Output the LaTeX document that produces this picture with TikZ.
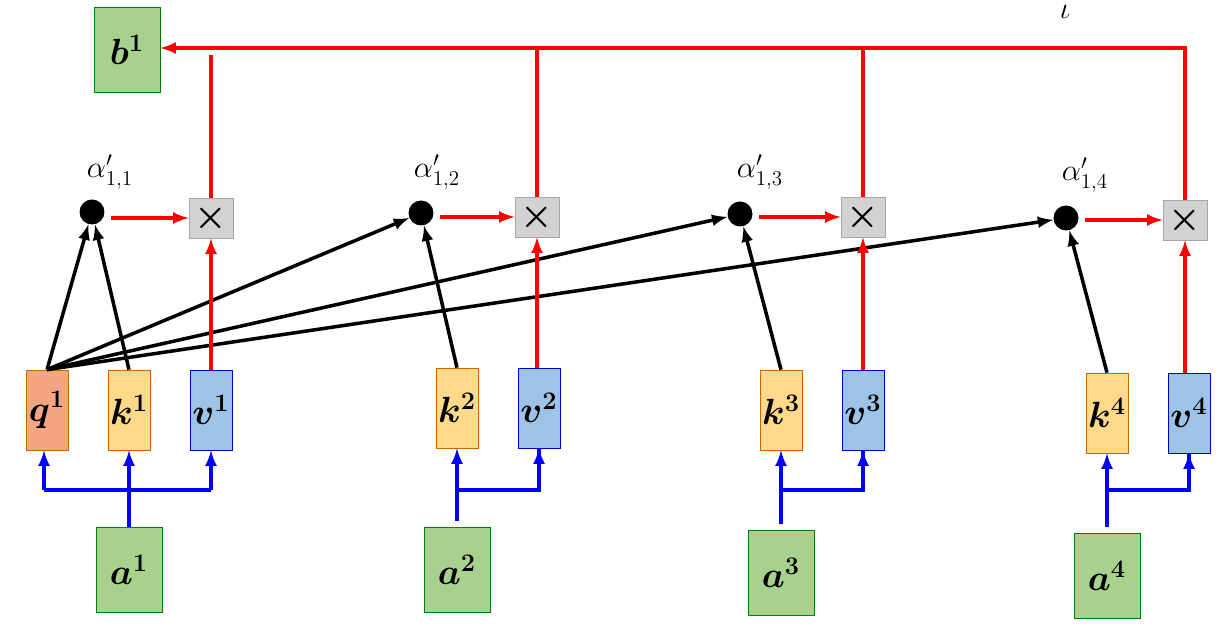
\documentclass[tikz,border=0pt]{standalone}
\usepackage{amsmath,bm}
\begin{document}
\begin{tikzpicture}[x=0.02cm,y=-0.02cm,
 box/.style={draw=#1!80!black,minimum width=0.84cm,minimum height=1.6cm,inner sep=0pt},
 gbox/.style={draw=green!50!black,minimum width=1.32cm,minimum height=1.7cm,inner sep=0pt,font=\huge},
 lab/.style={font=\huge},
 alab/.style={font=\LARGE},
 xb/.style={draw=gray!70,fill=gray!35,minimum width=0.88cm,minimum height=0.8cm,inner sep=0pt,font=\huge},
 dot/.style={circle,fill=black,minimum size=0.5cm,inner sep=0pt},
 bl/.style={blue,line width=2pt,-latex},
 rd/.style={red,line width=2pt,-latex},
 bk/.style={black,line width=2pt,-latex}]
\useasboundingbox (0,0) rectangle (1232,634);
\definecolor{qc}{HTML}{F4A582}\definecolor{kc}{HTML}{FFD98A}\definecolor{vc}{HTML}{9DC3E6}\definecolor{gc}{HTML}{A9D18E}
\node[gbox,fill=gc] (b1) at (127,50) {$\bm{b^1}$};
\node[gbox,fill=gc] (a1) at (129,570) {$\bm{a^1}$};
\node[gbox,fill=gc] (a2) at (457,570) {$\bm{a^2}$};
\node[gbox,fill=gc] (a3) at (781,573) {$\bm{a^3}$};
\node[gbox,fill=gc] (a4) at (1107,576) {$\bm{a^4}$};
\node[box=orange,fill=qc,lab] (q1) at (47,410) {$\bm{q^1}$};
\node[box=orange,fill=kc,lab] (k1) at (129,410) {$\bm{k^1}$};
\node[box=blue,fill=vc,lab] (v1) at (211,410) {$\bm{v^1}$};
\node[box=orange,fill=kc,lab] (k2) at (457,408) {$\bm{k^2}$};
\node[box=blue,fill=vc,lab] (v2) at (539,408) {$\bm{v^2}$};
\node[box=orange,fill=kc,lab] (k3) at (781,410) {$\bm{k^3}$};
\node[box=blue,fill=vc,lab] (v3) at (863,410) {$\bm{v^3}$};
\node[box=orange,fill=kc,lab] (k4) at (1107,413) {$\bm{k^4}$};
\node[box=blue,fill=vc,lab] (v4) at (1189,413) {$\bm{v^4}$};
\node[dot] (d1) at (92,212) {}; \node[alab] (l1) at (110,172) {$\alpha'_{1,1}$};
\node[dot] (d2) at (421,213) {}; \node[alab] (l2) at (437,172) {$\alpha'_{1,2}$};
\node[dot] (d3) at (740,214) {}; \node[alab] (l3) at (760,172) {$\alpha'_{1,3}$};
\node[dot] (d4) at (1066,218) {}; \node[alab] (l4) at (1085,175) {$\alpha'_{1,4}$};
\node[xb] (x1) at (211,218) {$\bm\times$};
\node[xb] (x2) at (537,217) {$\bm\times$};
\node[xb] (x3) at (863,217) {$\bm\times$};
\node[xb] (x4) at (1185,220) {$\bm\times$};
\node[alab] (iota) at (1065,12) {$\iota$};
% blue
\coordinate (h1l) at (44,490); \coordinate (h1r) at (211,490);
\draw[blue,line width=2pt] (h1l) -- (h1r);
\draw[bl] (a1.north) -- (k1.south);
\draw[bl] (h1l) -- (q1.south -| h1l);
\draw[bl] (h1r) -- (v1.south);
\foreach \a/\k/\v in {a2/k2/v2,a3/k3/v3,a4/k4/v4}{
 \draw[bl] (\k.south |- \a.north) ++(0,-6) -- (\k.south);
 \draw[blue,line width=2pt] (\k.south |- 0,490) -| (\v.south);
 \draw[bl] (\k.south |- 0,490) ++(0,0) -| ([xshift=0.01pt]\v.south);
}
% black
\foreach \d in {d1,d2,d3,d4} \draw[bk] (q1.north) -- (\d);
\draw[bk] (k1.north) -- (d1); \draw[bk] (k2.north) -- (d2);
\draw[bk] (k3.north) -- (d3); \draw[bk] (k4.north) -- (d4);
% red
\foreach \i in {1,2,3,4}{
 \draw[rd] (d\i.east |- x\i.west) ++(6,0) -- (x\i.west);
 \draw[rd] (x\i.south |- v\i.north) -- (x\i.south);
}
\draw[red,line width=2pt] (x1.north) -- (211,55);
\draw[red,line width=2pt] (x2.north) -- (537,48);
\draw[red,line width=2pt] (x3.north) -- (863,48);
\draw[rd] (x4.north) -- (1185,48) -- (b1.east |- 0,48);
\end{tikzpicture}
\end{document}
